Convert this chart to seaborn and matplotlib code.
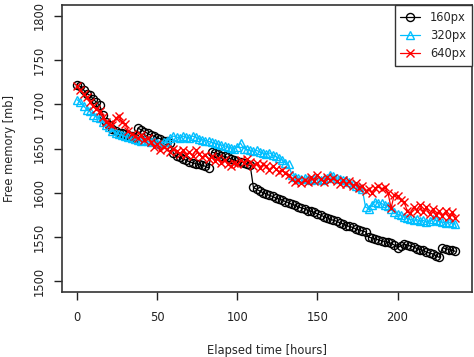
import numpy as np
import pandas as pd
import matplotlib
matplotlib.use("Agg")
import matplotlib.pyplot as plt
import seaborn as sns

# elapsed time in hours (sample every 2 hours)
hours = list(range(0, 238, 2))

mem_160 = [1722, 1720, 1716, 1712, 1710, 1706, 1702, 1699, 1688, 1680,
           1676, 1672, 1670, 1668, 1667, 1666, 1665, 1664, 1662, 1673,
           1671, 1669, 1667, 1665, 1664, 1662, 1661, 1659, 1658, 1656,
           1645, 1641, 1640, 1638, 1637, 1635, 1634, 1633, 1632, 1631,
           1630, 1628, 1646, 1645, 1644, 1642, 1641, 1640, 1638, 1637,
           1636, 1635, 1634, 1632, 1631, 1606, 1604, 1602, 1600, 1599,
           1597, 1596, 1594, 1593, 1592, 1590, 1589, 1587, 1586, 1584,
           1583, 1582, 1580, 1579, 1578, 1576, 1575, 1573, 1572, 1570,
           1569, 1568, 1566, 1565, 1563, 1562, 1561, 1559, 1558, 1557,
           1556, 1550, 1549, 1548, 1547, 1546, 1545, 1544, 1543, 1541,
           1538, 1540, 1542, 1541, 1540, 1539, 1537, 1536, 1535, 1533,
           1532, 1531, 1529, 1527, 1538, 1537, 1536, 1535, 1534]

mem_320 = [1705, 1702, 1698, 1694, 1692, 1688, 1686, 1684, 1680, 1676,
           1674, 1670, 1668, 1666, 1665, 1664, 1663, 1662, 1661, 1660,
           1659, 1660, 1658, 1657, 1658, 1656, 1655, 1657, 1659, 1662,
           1664, 1663, 1662, 1664, 1663, 1662, 1664, 1663, 1661, 1660,
           1659, 1658, 1657, 1656, 1655, 1654, 1653, 1652, 1651, 1650,
           1652, 1656, 1650, 1649, 1648, 1647, 1648, 1646, 1645, 1644,
           1645, 1643, 1641, 1639, 1637, 1634, 1632, 1620, 1618, 1617,
           1616, 1617, 1616, 1615, 1617, 1616, 1615, 1616, 1617, 1620,
           1619, 1617, 1616, 1615, 1614, 1612, 1610, 1608, 1606, 1604,
           1584, 1582, 1586, 1590, 1589, 1588, 1586, 1585, 1582, 1578,
           1576, 1575, 1573, 1571, 1570, 1569, 1570, 1568, 1569, 1567,
           1568, 1570, 1569, 1568, 1567, 1566, 1567, 1566, 1565]

mem_640 = [1720, 1716, 1712, 1708, 1702, 1698, 1695, 1692, 1686, 1680,
           1678, 1676, 1684, 1687, 1680, 1678, 1670, 1666, 1664, 1662,
           1665, 1660, 1662, 1657, 1652, 1655, 1648, 1652, 1649, 1646,
           1650, 1647, 1644, 1648, 1643, 1646, 1642, 1648, 1644, 1640,
           1643, 1638, 1641, 1636, 1639, 1634, 1637, 1632, 1630, 1634,
           1632, 1637, 1634, 1638, 1635, 1630, 1634, 1628, 1632, 1630,
           1626, 1630, 1627, 1624, 1626, 1622, 1620, 1616, 1612, 1615,
           1611, 1614, 1612, 1618, 1613, 1620, 1616, 1612, 1618, 1614,
           1617, 1613, 1610, 1614, 1610, 1613, 1608, 1611, 1605, 1608,
           1602, 1604, 1600, 1605, 1608, 1604, 1607, 1600, 1583, 1598,
           1596, 1592, 1590, 1580, 1577, 1584, 1580, 1586, 1578, 1584,
           1576, 1582, 1575, 1580, 1574, 1579, 1573, 1578, 1572]

sns.set_style("ticks")
plt.rcParams['font.family'] = ['DejaVu Sans']

fig = plt.figure(figsize=(4.74, 3.57), dpi=100)
ax = fig.add_axes([0.1308, 0.182, 0.865, 0.804])

sns.lineplot(x=hours, y=mem_160, ax=ax, color='black', marker='o', markersize=5.8,
             markerfacecolor='none', markeredgecolor='black', markeredgewidth=1.0,
             linewidth=0.9, estimator=None, label='160px')
sns.lineplot(x=hours, y=mem_320, ax=ax, color='deepskyblue', marker='^', markersize=5.8,
             markerfacecolor='none', markeredgecolor='deepskyblue', markeredgewidth=1.0,
             linewidth=0.9, estimator=None, label='320px')
sns.lineplot(x=hours, y=mem_640, ax=ax, color='red', marker='x', markersize=6,
             markeredgecolor='red', markeredgewidth=1.0,
             linewidth=0.9, estimator=None, label='640px')

ax.set_xlim(-9.5, 246.5)
ax.set_ylim(1488, 1812)
ax.set_xticks([0, 50, 100, 150, 200])
ax.set_yticks([1500, 1550, 1600, 1650, 1700, 1750, 1800])
ax.tick_params(direction='out', length=6, width=1, labelsize=8.3, colors='#222222')
for lbl in ax.get_yticklabels():
    lbl.set_rotation(90)
    lbl.set_va('center')
ax.tick_params(axis='x', pad=8)
ax.tick_params(axis='y', pad=6)
for s in ax.spines.values():
    s.set_visible(True)
    s.set_linewidth(1.2)
    s.set_color('#333333')

ax.set_xlabel('Elapsed time [hours]', fontsize=8.3, labelpad=14)
ax.set_ylabel('Free memory [mb]', fontsize=8.3, labelpad=12)

leg = ax.legend(loc='upper right', fontsize=8.3, frameon=True, fancybox=False,
                framealpha=1, edgecolor='#333333', borderaxespad=0,
                handlelength=1.7, handletextpad=0.9, labelspacing=0.45,
                borderpad=0.5)
leg.get_frame().set_linewidth(1.0)

fig.savefig('out.png', dpi=100)
